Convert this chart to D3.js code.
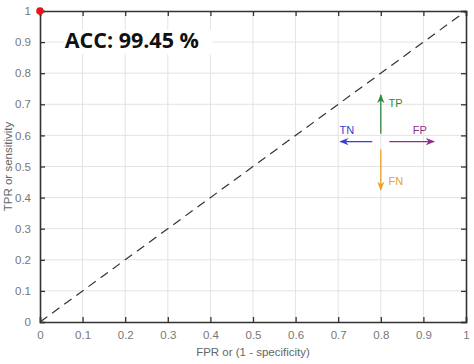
<!DOCTYPE html>
<html>
<head>
<meta charset="utf-8">
<script src="https://cdn.jsdelivr.net/npm/d3@7"></script>
<style>
  body { margin: 0; background: #fff; }
  svg text { font-family: "Liberation Sans", Arial, sans-serif; }
</style>
</head>
<body>
<div id="chart"></div>
<script>
// chart data
var xTicks = [0, 0.1, 0.2, 0.3, 0.4, 0.5, 0.6, 0.7, 0.8, 0.9, 1];
var yTicks = [0, 0.1, 0.2, 0.3, 0.4, 0.5, 0.6, 0.7, 0.8, 0.9, 1];
var rocPoint = [{fpr: 0, tpr: 1}];
var diagonal = [[0, 0], [1, 1]];
var accuracy = 99.45;
var legendLabels = ['TP', 'TN', 'FP', 'FN'];
var legendColors = ['#2f8a3c', '#3b3bd6', '#8a2f8a', '#eca12a'];
// arrow start / end in data units
var arrowFrom = [[0.8, 0.605], [0.78, 0.58], [0.82, 0.58], [0.8, 0.555]];
var arrowTo = [[0.8, 0.73], [0.705, 0.58], [0.925, 0.58], [0.8, 0.425]];

var width = 474, height = 364;
var margin = {top: 11, right: 8, bottom: 42, left: 40};

var svg = d3.select('#chart').append('svg')
  .attr('width', width).attr('height', height);

var x = d3.scaleLinear().domain([0, 1]).range([margin.left, width - margin.right]);
var y = d3.scaleLinear().domain([0, 1]).range([height - margin.bottom, margin.top]);

var defs = svg.append('defs');
legendLabels.forEach(function (lab, i) {
  defs.append('marker')
    .attr('id', 'arr' + lab)
    .attr('viewBox', '0 0 10 10')
    .attr('refX', 9).attr('refY', 5)
    .attr('markerWidth', 7).attr('markerHeight', 7)
    .attr('orient', 'auto')
    .append('path')
    .attr('d', 'M0,1 L10,5 L0,9 L3,5 Z')
    .style('fill', legendColors[i]);
});

// grid
svg.append('g').selectAll('line.gx')
  .data(xTicks.slice(1, -1)).enter().append('line')
  .attr('x1', function (d) { return x(d); })
  .attr('x2', function (d) { return x(d); })
  .attr('y1', y(0)).attr('y2', y(1))
  .style('stroke', '#e3e3e3').style('stroke-width', 1);

svg.append('g').selectAll('line.gy')
  .data(yTicks.slice(1, -1)).enter().append('line')
  .attr('y1', function (d) { return y(d); })
  .attr('y2', function (d) { return y(d); })
  .attr('x1', x(0)).attr('x2', x(1))
  .style('stroke', '#e3e3e3').style('stroke-width', 1);

// white patch behind the accuracy label
svg.append('rect')
  .attr('x', x(0.055)).attr('y', y(0.94))
  .attr('width', x(0.405) - x(0.055)).attr('height', y(0.86) - y(0.94))
  .style('fill', '#fff');

// axes with inward ticks on all four sides
var fmt = function (d) { return d === 0 || d === 1 ? d3.format('d')(d) : d3.format('.1f')(d); };

svg.append('g')
  .attr('transform', 'translate(0,' + y(0) + ')')
  .call(d3.axisBottom(x).tickValues(xTicks).tickSize(-5).tickPadding(9).tickFormat(fmt));
svg.append('g')
  .attr('transform', 'translate(0,' + y(1) + ')')
  .call(d3.axisTop(x).tickValues(xTicks).tickSize(-5).tickFormat(''));
svg.append('g')
  .attr('transform', 'translate(' + x(0) + ',0)')
  .call(d3.axisLeft(y).tickValues(yTicks).tickSize(-5).tickPadding(9).tickFormat(fmt));
svg.append('g')
  .attr('transform', 'translate(' + x(1) + ',0)')
  .call(d3.axisRight(y).tickValues(yTicks).tickSize(-5).tickFormat(''));

svg.selectAll('.domain').style('stroke', '#333').style('stroke-width', 1.6);
svg.selectAll('.tick line').style('stroke', '#333').style('stroke-width', 1.3);
svg.selectAll('.tick text').style('fill', '#777').style('font-size', '11.5px');

// chance line
svg.append('path')
  .attr('d', d3.line().x(function (d) { return x(d[0]); }).y(function (d) { return y(d[1]); })(diagonal))
  .style('fill', 'none')
  .style('stroke', '#333')
  .style('stroke-width', 1.2)
  .style('stroke-dasharray', '9,6');

// ROC point
svg.selectAll('circle.pt')
  .data(rocPoint).enter().append('circle')
  .attr('cx', function (d) { return x(d.fpr); })
  .attr('cy', function (d) { return y(d.tpr); })
  .attr('r', 3.8)
  .style('fill', '#e8141a');

svg.append('text')
  .attr('x', x(0.058)).attr('y', y(0.88))
  .style('font-family', '"Open Sans", "DejaVu Sans", sans-serif')
  .style('font-size', '21.5px').style('font-weight', 'bold')
  .style('fill', '#111')
  .text('ACC: ' + accuracy + ' %');

// TP/TN/FP/FN arrows
var arrows = svg.append('g');
legendLabels.forEach(function (lab, i) {
  arrows.append('line')
    .attr('x1', x(arrowFrom[i][0])).attr('y1', y(arrowFrom[i][1]))
    .attr('x2', x(arrowTo[i][0])).attr('y2', y(arrowTo[i][1]))
    .style('stroke', legendColors[i]).style('stroke-width', 1.3)
    .attr('marker-end', 'url(#arr' + lab + ')');
});

var labelPos = [[0.818, 0.69], [0.703, 0.605], [0.875, 0.605], [0.818, 0.44]];
legendLabels.forEach(function (lab, i) {
  arrows.append('text')
    .attr('x', x(labelPos[i][0])).attr('y', y(labelPos[i][1]))
    .style('font-size', '11px')
    .style('fill', legendColors[i])
    .text(lab);
});

// axis titles
svg.append('text')
  .attr('x', x(0.5)).attr('y', height - 8)
  .attr('text-anchor', 'middle')
  .style('font-size', '11.5px').style('fill', '#666')
  .text('FPR or (1 - specificity)');

svg.append('text')
  .attr('transform', 'translate(12,' + y(0.5) + ') rotate(-90)')
  .attr('text-anchor', 'middle')
  .style('font-size', '11.5px').style('fill', '#666')
  .text('TPR or sensitivity');
</script>
</body>
</html>
